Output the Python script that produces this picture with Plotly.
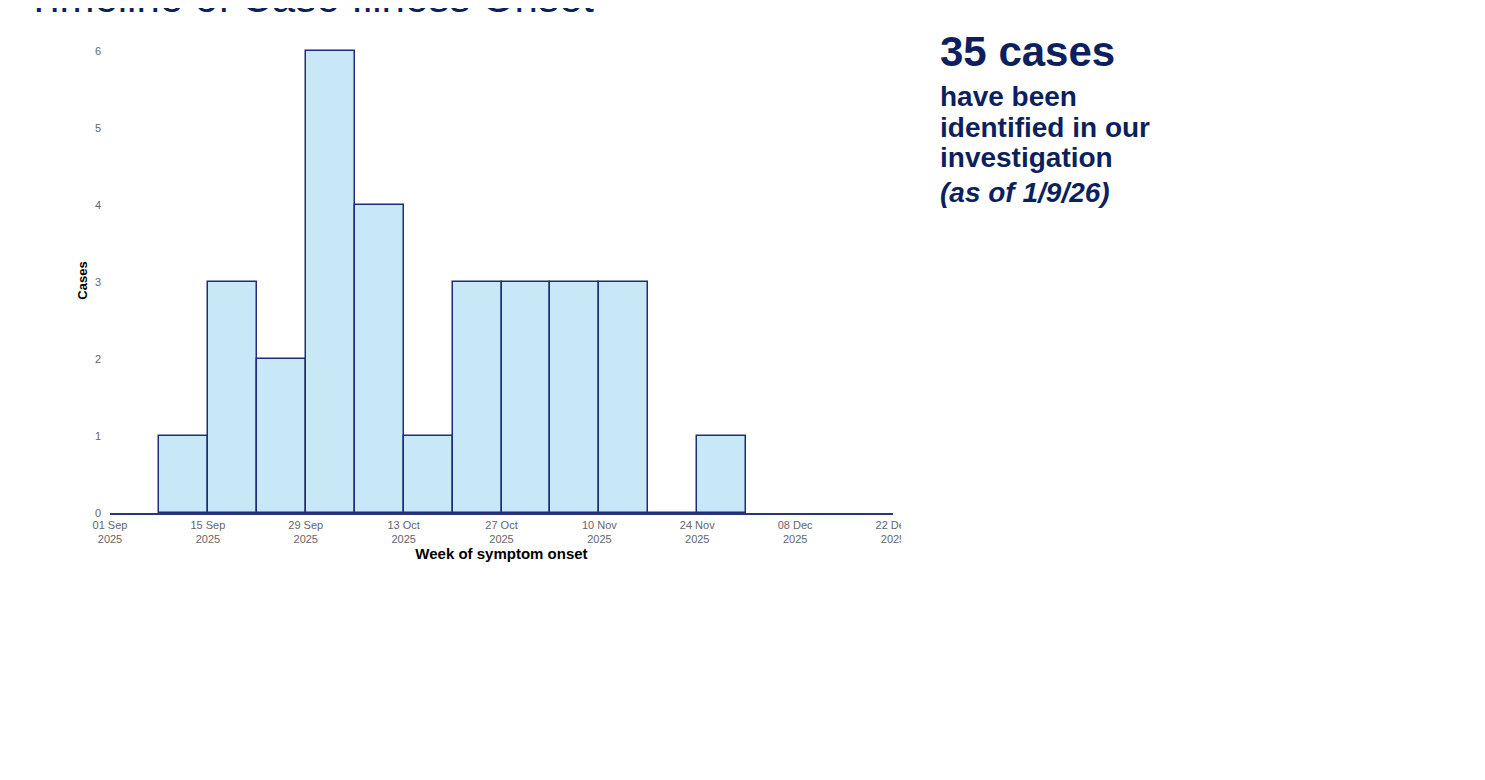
import plotly.graph_objects as go

# ---- data ----
week_starts = ["2025-09-08", "2025-09-15", "2025-09-22", "2025-09-29", "2025-10-06",
               "2025-10-13", "2025-10-20", "2025-10-27", "2025-11-03", "2025-11-10",
               "2025-11-17", "2025-11-24"]
cases = [1, 3, 2, 6, 4, 1, 3, 3, 3, 3, 0, 1]
tick_dates = ["2025-09-01", "2025-09-15", "2025-09-29", "2025-10-13", "2025-10-27",
              "2025-11-10", "2025-11-24", "2025-12-08", "2025-12-22"]
tick_labels = ["01 Sep<br>2025", "15 Sep<br>2025", "29 Sep<br>2025", "13 Oct<br>2025",
               "27 Oct<br>2025", "10 Nov<br>2025", "24 Nov<br>2025", "08 Dec<br>2025",
               "22 Dec<br>2025"]
y_ticks = [0, 1, 2, 3, 4, 5, 6]

OFF = 8  # page body margin
W, H = 1485 - OFF, 780 - OFF
PX_PER_UNIT = (513 - 51) / 6.0
Y_MAX = 6 + 3 / PX_PER_UNIT
L, R, T, B = 110 - OFF, 893 - OFF, 48 - OFF, 513 - OFF  # plot area in figure pixels
NAVY = "#0d1f5c"
FONT = "Liberation Sans, Arial, sans-serif"

def px(x):  # screen pixel -> paper
    return (x - OFF - L) / (R - L)

def py(y):
    return (B - (y - OFF)) / (B - T)

WEEK_MS = 7 * 24 * 3600 * 1000

fig = go.Figure()
fig.add_trace(go.Bar(
    x=week_starts, y=cases, width=WEEK_MS, offset=0,
    marker=dict(color="#c8e8f8", line=dict(color="#1f2d78", width=1.5)),
    hoverinfo="x+y",
))

annotations = [
    dict(text="Timeline of Case Illness Onset", x=px(24), y=py(-3), xanchor="left", yanchor="middle",
         font=dict(size=42, color=NAVY, family=FONT)),
    dict(text="<b>35 cases</b>", x=px(938), y=py(52), xanchor="left", yanchor="middle",
         font=dict(size=42, color=NAVY, family=FONT)),
    dict(text="<b>have been</b>", x=px(938), y=py(97), xanchor="left", yanchor="middle",
         font=dict(size=28, color=NAVY, family=FONT)),
    dict(text="<b>identified in our</b>", x=px(938), y=py(127), xanchor="left", yanchor="middle",
         font=dict(size=28, color=NAVY, family=FONT)),
    dict(text="<b>investigation</b>", x=px(938), y=py(157), xanchor="left", yanchor="middle",
         font=dict(size=28, color=NAVY, family=FONT)),
    dict(text="<b><i>(as of 1/9/26)</i></b>", x=px(938), y=py(193), xanchor="left", yanchor="middle",
         font=dict(size=28, color=NAVY, family=FONT)),
]
for a in annotations:
    a.update(xref="paper", yref="paper", showarrow=False)

fig.update_layout(
    width=W, height=H, autosize=False,
    margin=dict(l=L, r=W - R, t=T, b=H - B, pad=0),
    paper_bgcolor="white", plot_bgcolor="white",
    showlegend=False, bargap=0,
    font=dict(family=FONT),
    annotations=annotations,
    shapes=[dict(type="rect", xref="paper", yref="paper", x0=px(901), x1=px(960),
                 y0=py(516), y1=py(548), fillcolor="white", line=dict(width=0), layer="above")],
)
fig.update_xaxes(
    type="date", range=["2025-09-01", "2025-12-22"],
    tickvals=tick_dates, ticktext=tick_labels, tickangle=0,
    tickfont=dict(size=11, color="#666666"),
    showgrid=False, zeroline=False, showline=True, linecolor="#2a3672", linewidth=1.5,
    ticks="", ticklabelstandoff=1,
    title=dict(text="<b>Week of symptom onset</b>", font=dict(size=15, color="black"), standoff=2),
)
fig.update_yaxes(
    range=[0, Y_MAX], tickvals=y_ticks, tickfont=dict(size=11, color="#666666"),
    showgrid=False, zeroline=False, showline=False, ticks="",
    ticklabelstandoff=8,
    title=dict(text="<b>Cases</b>", font=dict(size=13, color="black"), standoff=4),
)

fig.write_html("out.html")
